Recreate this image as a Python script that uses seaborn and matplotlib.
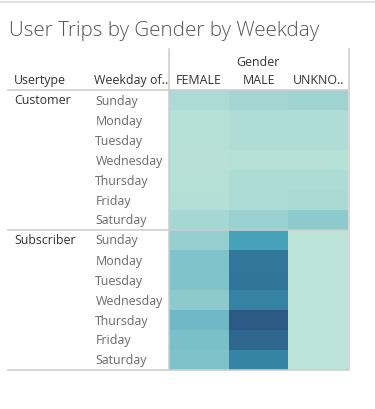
import numpy as np
import pandas as pd
import seaborn as sns
import matplotlib.pyplot as plt
from matplotlib.colors import LinearSegmentedColormap
from matplotlib.lines import Line2D

usertypes = ['Customer', 'Subscriber']
weekdays = ['Sunday', 'Monday', 'Tuesday', 'Wednesday', 'Thursday', 'Friday', 'Saturday']
genders = ['FEMALE', 'MALE', 'UNKNOWN']
gender_labels = ['FEMALE', 'MALE', 'UNKNO..']

# trip counts
customer_female = [6500, 3500, 3400, 2600, 3600, 3700, 9600]
customer_male = [10400, 5600, 5300, 3500, 6400, 6600, 14500]
customer_unknown = [12600, 5400, 5300, 3300, 6300, 7200, 20400]
subscriber_female = [16600, 25600, 25200, 20300, 33400, 28500, 26400]
subscriber_male = [50200, 79400, 80600, 71300, 100500, 90300, 70100]
subscriber_unknown = [600, 700, 650, 600, 700, 650, 550]

rows = []
for ut, f, m, u in [('Customer', customer_female, customer_male, customer_unknown),
                    ('Subscriber', subscriber_female, subscriber_male, subscriber_unknown)]:
    for i, d in enumerate(weekdays):
        rows.append({'Usertype': ut, 'Weekday': d, 'FEMALE': f[i], 'MALE': m[i], 'UNKNOWN': u[i]})
df = pd.DataFrame(rows).set_index(['Usertype', 'Weekday'])[genders]

blue_teal = ['#bce4d8', '#aedcd5', '#a1d5d2', '#95cecf', '#89c8cc', '#7ec1ca', '#72bac6',
             '#66b2c2', '#59acbe', '#4ba5ba', '#419eb6', '#3b94b2', '#358ead', '#3586a7',
             '#347ea1', '#32779b', '#316f96', '#2f6790', '#2d608a', '#2c5985']
cmap = LinearSegmentedColormap.from_list('blue_teal', blue_teal)

plt.rcParams['font.family'] = ['Open Sans', 'DejaVu Sans']

fig = plt.figure(figsize=(3.75, 4.10), dpi=100)
W, H = 375, 410

def fx(x):
    return x / W

def fy(y):
    return 1 - y / H

fs = 8.9

ax = fig.add_axes([fx(169), fy(371), fx(348) - fx(169), fy(91) - fy(371)])
sns.heatmap(df.values, ax=ax, cmap=cmap, cbar=False, linewidths=0,
            xticklabels=gender_labels, yticklabels=weekdays * 2)

ax.xaxis.tick_top()
ax.tick_params(axis='x', length=0, pad=3, labelsize=fs, labelcolor='#333333')
ax.tick_params(axis='y', length=0, pad=53, labelsize=fs, labelcolor='#6a6a6a')
for lab in ax.get_yticklabels():
    lab.set_horizontalalignment('left')
    lab.set_rotation(0)
for s in ax.spines.values():
    s.set_visible(False)

# title and header texts
fig.text(fx(9), fy(31), 'User Trips by Gender by Weekday', fontsize=14.8,
         color='#555555', va='center', ha='left', fontweight='light')
fig.text(fx(258), fy(62), 'Gender', fontsize=fs, color='#333333', ha='center', va='center')
fig.text(fx(14), fy(81), 'Usertype', fontsize=fs, color='#333333', ha='left', va='center')
fig.text(fx(94), fy(81), 'Weekday of..', fontsize=fs, color='#333333', ha='left', va='center')
fig.text(fx(14), fy(101), 'Customer', fontsize=fs, color='#333333', ha='left', va='center')
fig.text(fx(14), fy(241), 'Subscriber', fontsize=fs, color='#333333', ha='left', va='center')

grey = '#cccccc'
def hline(y, x0, x1, c=grey, lw=1.1):
    fig.add_artist(Line2D([fx(x0), fx(x1)], [fy(y), fy(y)], color=c, lw=lw))

def vline(x, y0, y1, c=grey, lw=1.1):
    fig.add_artist(Line2D([fx(x), fx(x)], [fy(y0), fy(y1)], color=c, lw=lw))

hline(3, 0, 375, c='#e0e0e0', lw=1.5)
hline(91, 8, 348)
hline(231, 8, 348)
hline(371, 8, 348)
vline(168.5, 50, 371)
vline(348.5, 50, 371)

fig.savefig('out.png', dpi=100)
